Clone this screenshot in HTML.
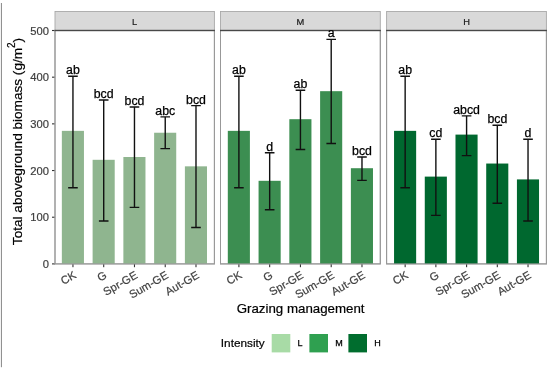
<!DOCTYPE html>
<html><head><meta charset="utf-8"><title>Total aboveground biomass</title>
<style>
html,body{margin:0;padding:0;background:#fff;}
body{width:550px;height:369px;overflow:hidden;}
svg{display:block;filter:blur(0.45px);font-family:"Liberation Sans",Arial,sans-serif;}
.tick{fill:#3e3e3e;font-size:11.2px;stroke:#3e3e3e;stroke-width:0.2px;}
.sig{fill:#000;font-size:12.3px;text-anchor:middle;stroke:#000;stroke-width:0.25px;}
.strip{fill:#1a1a1a;font-size:9.3px;text-anchor:middle;stroke:#1a1a1a;stroke-width:0.2px;}
.ttl{fill:#000;font-size:13.3px;stroke:#000;stroke-width:0.2px;}
.leg{fill:#000;font-size:9px;stroke:#000;stroke-width:0.25px;}
</style></head><body>
<svg width="550" height="369" viewBox="0 0 550 369">
<rect x="0" y="0" width="550" height="369" fill="#ffffff"/>
<rect x="0.9" y="3" width="1" height="364.2" fill="#858585"/>

<text class="tick" x="49" y="267.90" text-anchor="end">0</text>
<rect x="52" y="263.35" width="3" height="1.1" fill="#333"/>
<text class="tick" x="49" y="221.22" text-anchor="end">100</text>
<rect x="52" y="216.67" width="3" height="1.1" fill="#333"/>
<text class="tick" x="49" y="174.54" text-anchor="end">200</text>
<rect x="52" y="169.99" width="3" height="1.1" fill="#333"/>
<text class="tick" x="49" y="127.86" text-anchor="end">300</text>
<rect x="52" y="123.31" width="3" height="1.1" fill="#333"/>
<text class="tick" x="49" y="81.18" text-anchor="end">400</text>
<rect x="52" y="76.63" width="3" height="1.1" fill="#333"/>
<text class="tick" x="49" y="34.50" text-anchor="end">500</text>
<rect x="52" y="29.95" width="3" height="1.1" fill="#333"/>
<rect x="55.00" y="11.5" width="159.40" height="19.00" fill="#d9d9d9" stroke="#a8a8a8" stroke-width="0.9"/>
<text class="strip" x="134.70" y="24.6">L</text>
<rect x="55.00" y="30.5" width="159.40" height="233.40" fill="#fff" stroke="#989898" stroke-width="1"/>
<rect x="61.85" y="130.86" width="22.1" height="133.04" fill="#8fb58f"/>
<rect x="92.61" y="159.80" width="22.1" height="104.10" fill="#8fb58f"/>
<rect x="123.37" y="157.00" width="22.1" height="106.90" fill="#8fb58f"/>
<rect x="154.13" y="132.73" width="22.1" height="131.17" fill="#8fb58f"/>
<rect x="184.89" y="166.34" width="22.1" height="97.56" fill="#8fb58f"/>
<rect x="55.00" y="30.5" width="159.40" height="233.40" fill="none" stroke="#989898" stroke-width="1"/>
<rect x="54.50" y="29.8" width="160.40" height="1.4" fill="#484848"/>
<path d="M68.15 76.25H77.75M68.15 187.81H77.75M72.95 76.25V187.81" stroke="#111" stroke-width="1.4" fill="none"/>
<text class="sig" x="72.95" y="74.15">ab</text>
<rect x="72.40" y="264.40" width="1.1" height="2.8" fill="#333"/>
<text class="tick" text-anchor="end" transform="translate(76.85,277.30) rotate(-30)">CK</text>
<path d="M98.91 100.05H108.51M98.91 220.95H108.51M103.71 100.05V220.95" stroke="#111" stroke-width="1.4" fill="none"/>
<text class="sig" x="103.71" y="97.95">bcd</text>
<rect x="103.16" y="264.40" width="1.1" height="2.8" fill="#333"/>
<text class="tick" text-anchor="end" transform="translate(107.61,277.30) rotate(-30)">G</text>
<path d="M129.67 107.06H139.27M129.67 207.42H139.27M134.47 107.06V207.42" stroke="#111" stroke-width="1.4" fill="none"/>
<text class="sig" x="134.47" y="104.96">bcd</text>
<rect x="133.92" y="264.40" width="1.1" height="2.8" fill="#333"/>
<text class="tick" text-anchor="end" transform="translate(138.37,277.30) rotate(-30)">Spr-GE</text>
<path d="M160.43 116.86H170.03M160.43 148.60H170.03M165.23 116.86V148.60" stroke="#111" stroke-width="1.4" fill="none"/>
<text class="sig" x="165.23" y="114.76">abc</text>
<rect x="164.68" y="264.40" width="1.1" height="2.8" fill="#333"/>
<text class="tick" text-anchor="end" transform="translate(169.13,277.30) rotate(-30)">Sum-GE</text>
<path d="M191.19 105.65H200.79M191.19 227.49H200.79M195.99 105.65V227.49" stroke="#111" stroke-width="1.4" fill="none"/>
<text class="sig" x="195.99" y="103.55">bcd</text>
<rect x="195.44" y="264.40" width="1.1" height="2.8" fill="#333"/>
<text class="tick" text-anchor="end" transform="translate(199.89,277.30) rotate(-30)">Aut-GE</text>
<rect x="220.50" y="11.5" width="159.80" height="19.00" fill="#d9d9d9" stroke="#a8a8a8" stroke-width="0.9"/>
<text class="strip" x="300.40" y="24.6">M</text>
<rect x="220.50" y="30.5" width="159.80" height="233.40" fill="#fff" stroke="#989898" stroke-width="1"/>
<rect x="227.80" y="130.86" width="22.1" height="133.04" fill="#3c8e51"/>
<rect x="258.57" y="180.81" width="22.1" height="83.09" fill="#3c8e51"/>
<rect x="289.34" y="119.19" width="22.1" height="144.71" fill="#3c8e51"/>
<rect x="320.11" y="91.18" width="22.1" height="172.72" fill="#3c8e51"/>
<rect x="350.88" y="168.21" width="22.1" height="95.69" fill="#3c8e51"/>
<rect x="220.50" y="30.5" width="159.80" height="233.40" fill="none" stroke="#989898" stroke-width="1"/>
<rect x="220.00" y="29.8" width="160.80" height="1.4" fill="#484848"/>
<path d="M234.10 76.25H243.70M234.10 187.81H243.70M238.90 76.25V187.81" stroke="#111" stroke-width="1.4" fill="none"/>
<text class="sig" x="238.90" y="74.15">ab</text>
<rect x="238.35" y="264.40" width="1.1" height="2.8" fill="#333"/>
<text class="tick" text-anchor="end" transform="translate(242.80,277.30) rotate(-30)">CK</text>
<path d="M264.87 152.80H274.47M264.87 209.75H274.47M269.67 152.80V209.75" stroke="#111" stroke-width="1.4" fill="none"/>
<text class="sig" x="269.67" y="150.70">d</text>
<rect x="269.12" y="264.40" width="1.1" height="2.8" fill="#333"/>
<text class="tick" text-anchor="end" transform="translate(273.57,277.30) rotate(-30)">G</text>
<path d="M295.64 90.25H305.24M295.64 149.53H305.24M300.44 90.25V149.53" stroke="#111" stroke-width="1.4" fill="none"/>
<text class="sig" x="300.44" y="88.15">ab</text>
<rect x="299.89" y="264.40" width="1.1" height="2.8" fill="#333"/>
<text class="tick" text-anchor="end" transform="translate(304.34,277.30) rotate(-30)">Spr-GE</text>
<path d="M326.41 39.37H336.01M326.41 143.47H336.01M331.21 39.37V143.47" stroke="#111" stroke-width="1.4" fill="none"/>
<text class="sig" x="331.21" y="37.27">a</text>
<rect x="330.66" y="264.40" width="1.1" height="2.8" fill="#333"/>
<text class="tick" text-anchor="end" transform="translate(335.11,277.30) rotate(-30)">Sum-GE</text>
<path d="M357.18 157.00H366.78M357.18 180.34H366.78M361.98 157.00V180.34" stroke="#111" stroke-width="1.4" fill="none"/>
<text class="sig" x="361.98" y="154.90">bcd</text>
<rect x="361.43" y="264.40" width="1.1" height="2.8" fill="#333"/>
<text class="tick" text-anchor="end" transform="translate(365.88,277.30) rotate(-30)">Aut-GE</text>
<rect x="386.60" y="11.5" width="159.80" height="19.00" fill="#d9d9d9" stroke="#a8a8a8" stroke-width="0.9"/>
<text class="strip" x="466.50" y="24.6">H</text>
<rect x="386.60" y="30.5" width="159.80" height="233.40" fill="#fff" stroke="#989898" stroke-width="1"/>
<rect x="394.05" y="130.86" width="22.1" height="133.04" fill="#00682f"/>
<rect x="424.77" y="176.61" width="22.1" height="87.29" fill="#00682f"/>
<rect x="455.49" y="134.60" width="22.1" height="129.30" fill="#00682f"/>
<rect x="486.21" y="163.54" width="22.1" height="100.36" fill="#00682f"/>
<rect x="516.93" y="179.41" width="22.1" height="84.49" fill="#00682f"/>
<rect x="386.60" y="30.5" width="159.80" height="233.40" fill="none" stroke="#989898" stroke-width="1"/>
<rect x="386.10" y="29.8" width="160.80" height="1.4" fill="#484848"/>
<path d="M400.35 76.25H409.95M400.35 187.81H409.95M405.15 76.25V187.81" stroke="#111" stroke-width="1.4" fill="none"/>
<text class="sig" x="405.15" y="74.15">ab</text>
<rect x="404.60" y="264.40" width="1.1" height="2.8" fill="#333"/>
<text class="tick" text-anchor="end" transform="translate(409.05,277.30) rotate(-30)">CK</text>
<path d="M431.07 139.26H440.67M431.07 215.35H440.67M435.87 139.26V215.35" stroke="#111" stroke-width="1.4" fill="none"/>
<text class="sig" x="435.87" y="137.16">cd</text>
<rect x="435.32" y="264.40" width="1.1" height="2.8" fill="#333"/>
<text class="tick" text-anchor="end" transform="translate(439.77,277.30) rotate(-30)">G</text>
<path d="M461.79 115.92H471.39M461.79 155.60H471.39M466.59 115.92V155.60" stroke="#111" stroke-width="1.4" fill="none"/>
<text class="sig" x="466.59" y="113.82">abcd</text>
<rect x="466.04" y="264.40" width="1.1" height="2.8" fill="#333"/>
<text class="tick" text-anchor="end" transform="translate(470.49,277.30) rotate(-30)">Spr-GE</text>
<path d="M492.51 125.26H502.11M492.51 203.22H502.11M497.31 125.26V203.22" stroke="#111" stroke-width="1.4" fill="none"/>
<text class="sig" x="497.31" y="123.16">bcd</text>
<rect x="496.76" y="264.40" width="1.1" height="2.8" fill="#333"/>
<text class="tick" text-anchor="end" transform="translate(501.21,277.30) rotate(-30)">Sum-GE</text>
<path d="M523.23 139.26H532.83M523.23 220.95H532.83M528.03 139.26V220.95" stroke="#111" stroke-width="1.4" fill="none"/>
<text class="sig" x="528.03" y="137.16">d</text>
<rect x="527.48" y="264.40" width="1.1" height="2.8" fill="#333"/>
<text class="tick" text-anchor="end" transform="translate(531.93,277.30) rotate(-30)">Aut-GE</text>
<text class="ttl" text-anchor="middle" x="300.6" y="313">Grazing management</text>
<text class="ttl" style="font-size:13.6px" text-anchor="middle" transform="translate(21.6,141.5) rotate(-90)">Total aboveground biomass (g/m<tspan font-size="10px" dy="-6.4">2</tspan><tspan dy="6.4">)</tspan></text>
<text class="ttl" x="220.8" y="347.3" style="font-size:11.8px">Intensity</text>
<rect x="271.7" y="334" width="18.6" height="18.4" fill="#a8dba6"/>
<text class="leg" x="297.5" y="346.4">L</text>
<rect x="309.4" y="334" width="18.6" height="18.4" fill="#2fa050"/>
<text class="leg" x="335.2" y="346.4">M</text>
<rect x="348.4" y="334" width="18.6" height="18.4" fill="#006d2e"/>
<text class="leg" x="374.2" y="346.4">H</text>
</svg></body></html>
